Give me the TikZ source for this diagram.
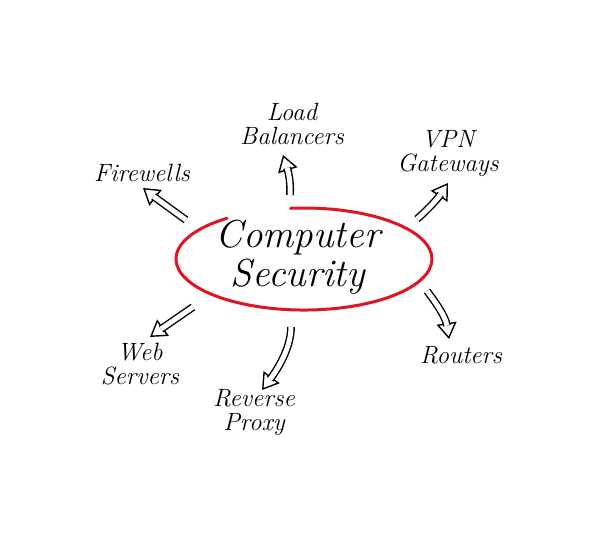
\documentclass[tikz,border=0pt]{standalone}
\usetikzlibrary{arrows.meta}
\definecolor{ringred}{RGB}{222,22,34}
\begin{document}
\begin{tikzpicture}[x=1pt,y=-1pt,
 lbl/.style={font=\fontsize{25}{24}\selectfont\itshape, align=center, inner sep=0pt},
 title/.style={font=\fontsize{39}{39}\selectfont\itshape, align=center, inner sep=0pt},
 shaft/.style={line width=1.4pt, double=white, double distance=5pt, shorten >=-2.5pt},
 headtip/.style={line width=1.4pt, -{Triangle[fill=white,length=16pt,width=20pt]}},
 ring/.style={draw=ringred, line width=3pt, line cap=round}]
\useasboundingbox[fill=white] (0,0) rectangle (600,553);

% centre
\node[title] (core) at (298,257) {Computer\\Security};
\coordinate (ringstart) at (290.6,208.3);
\draw[ring] (ringstart) arc[start angle=264, end angle=593, x radius=128, y radius=51];

% labels
\node[lbl] (load) at (292,124) {Load\\Balancers};
\node[lbl] (fire) at (142,173) {Firewells};
\node[lbl] (vpn) at (448,154) {VPN\\Gateways};
\node[lbl] (web) at (140,364) {Web\\Servers};
\node[lbl] (proxy) at (254,413) {Reverse\\Proxy};
\node[lbl] (rout) at (461,355) {Routers};

% arrow coordinates
\coordinate (a1) at (186,220);   \coordinate (b1) at (155.6,197.9); \coordinate (t1) at (143,188);
\coordinate (a2) at (290,195);   \coordinate (b2) at (287.8,170.2); \coordinate (t2) at (283,155);
\coordinate (a3) at (417,219);   \coordinate (b3) at (439.2,196.3); \coordinate (t3) at (448,183);
\coordinate (a4) at (427,291);   \coordinate (b4) at (446.6,323.2); \coordinate (t4) at (449,339);
\coordinate (a5) at (291,327);   \coordinate (b5) at (271.6,377.2); \coordinate (t5) at (262,390);
\coordinate (a6) at (193,307);   \coordinate (b6) at (163,327.7); \coordinate (t6) at (150,337);

% heads
\foreach \i in {1,...,6} {\draw[headtip] (b\i) -- (t\i);}

% shafts
\draw[shaft] (a1) -- (b1);
\draw[shaft] (a2) .. controls (290.5,185) and (289.6,176) .. (b2);
\draw[shaft] (a3) .. controls (424,213) and (435.3,202) .. (b3);
\draw[shaft] (a4) .. controls (433,299) and (445.4,315.3) .. (b4);
\draw[shaft] (a5) .. controls (291,347) and (278.8,367.6) .. (b5);
\draw[shaft] (a6) -- (b6);
\end{tikzpicture}
\end{document}
